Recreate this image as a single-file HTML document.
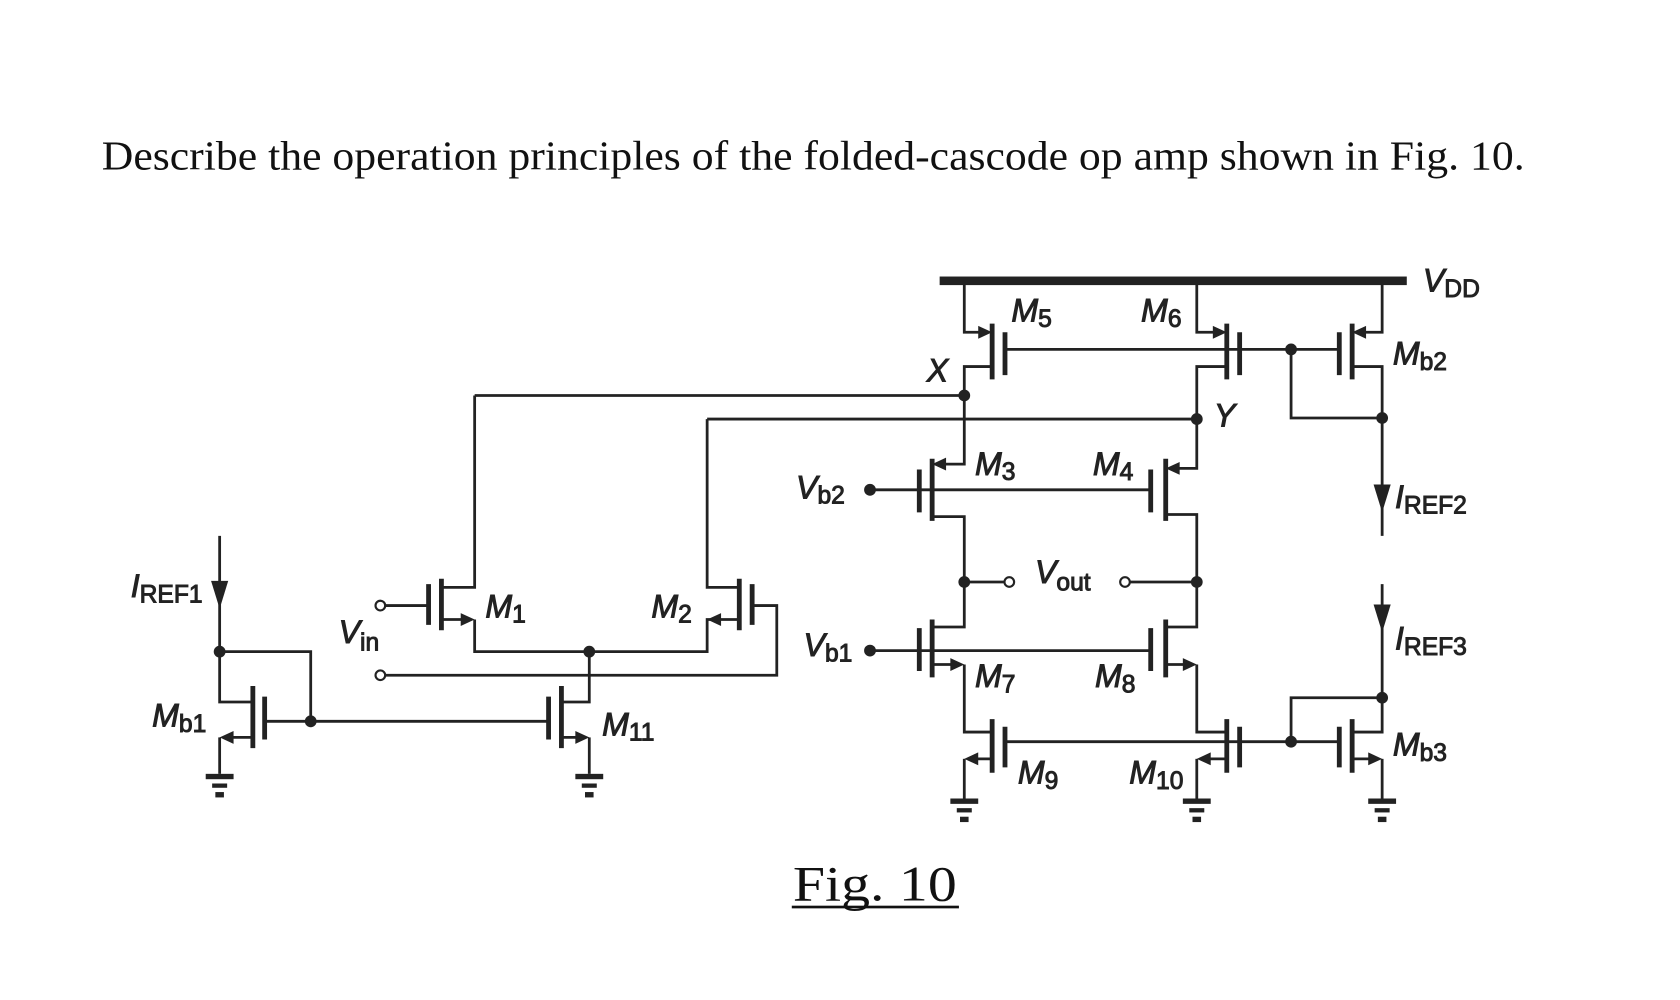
<!DOCTYPE html>
<html><head><meta charset="utf-8">
<style>
html,body{margin:0;padding:0;background:#fff;width:1680px;height:1000px;overflow:hidden}
svg{display:block}
.w{fill:none;stroke:#222;stroke-width:2.6;stroke-linejoin:miter}
.p{fill:none;stroke:#222;stroke-width:4.5}
.l{font-family:"Liberation Sans",sans-serif;font-style:italic;font-size:30px;fill:#222;stroke:#222;stroke-width:0.9}
.s{font-style:normal;font-size:23px}
.t{font-family:"Liberation Serif",serif;fill:#111}
</style></head><body>
<svg width="1680" height="1000" viewBox="0 0 1568 933" preserveAspectRatio="none" xmlns="http://www.w3.org/2000/svg">
<text class="t" x="95" y="158" font-size="38" textLength="1328" lengthAdjust="spacingAndGlyphs">Describe the operation principles of the folded-cascode op amp shown in Fig. 10.</text>
<text class="t" x="740" y="840" font-size="46" textLength="153" lengthAdjust="spacingAndGlyphs">Fig. 10</text>
<rect x="739" y="845" width="156" height="2.5" fill="#111"/>

<rect x="877" y="258" width="436" height="8" fill="#222"/>
<g class="w">
<path d="M900,262V310H922"/><path d="M926,342H900V433H874"/>
<path d="M1117,262V310H1141"/><path d="M1145,342H1117V437H1092"/>
<path d="M938,326H1250"/>
<path d="M1290,262V310H1266"/><path d="M1262,342H1290V500"/>
<path d="M1205,326V390H1290"/>
<path d="M443,369H900"/><path d="M443,369V548H412"/>
<path d="M660,391H1117"/><path d="M660,391V548H690"/>
<path d="M812,457H1074"/><path d="M870,482H900V543"/><path d="M1088,480H1117V543"/>
<path d="M900,543H937"/><path d="M1055,543H1117"/>
<path d="M900,543V585H870"/><path d="M812,607H1074"/>
<path d="M870,620H896"/><path d="M900,620V683H926"/>
<path d="M1117,543V585H1088"/><path d="M1088,620H1113"/><path d="M1117,620V683H1145"/>
<path d="M938,692H1250"/>
<path d="M926,708H904"/><path d="M900,708V745"/>
<path d="M1145,708H1121"/><path d="M1117,708V745"/>
<path d="M1262,683H1290V651"/><path d="M1262,708H1286"/><path d="M1290,708V745"/>
<path d="M1205,692V651H1290"/><path d="M1290,545V651"/>
<path d="M205,500V655H236"/><path d="M205,608H290V673"/>
<path d="M247,673H512"/><path d="M236,688H209"/><path d="M205,688V722"/>
<path d="M524,655H550V608"/><path d="M524,688H546"/><path d="M550,688V722"/>
<path d="M360,565H400"/><path d="M412,578H439"/><path d="M443,578V608H660V578H690"/>
<path d="M702,565H725V630H360"/>
</g>
<g class="p">
<path d="M926,302V354M938,310V350"/>
<path d="M1145,302V354M1157,310V350"/>
<path d="M1262,302V354M1250,310V350"/>
<path d="M870,428V486M858,438V478"/>
<path d="M1088,428V486M1074,438V478"/>
<path d="M870,578V632M858,586V626"/>
<path d="M1088,578V632M1074,586V626"/>
<path d="M926,671V721M938,678V716"/>
<path d="M1145,671V721M1157,678V716"/>
<path d="M1262,671V721M1250,678V716"/>
<path d="M236,640V698M247,650V690"/>
<path d="M524,640V698M512,650V690"/>
<path d="M412,540V588M400,545V583"/>
<path d="M690,540V588M702,545V583"/>
</g>
<g fill="#222">
<polygon points="926,310 913,304 913,316"/>
<polygon points="1145,310 1132,304 1132,316"/>
<polygon points="1262,310 1275,304 1275,316"/>
<polygon points="870,433 883,427 883,439"/>
<polygon points="1088,437 1101,431 1101,443"/>
<polygon points="900,620 887,614 887,626"/>
<polygon points="1117,620 1104,614 1104,626"/>
<polygon points="900,708 913,702 913,714"/>
<polygon points="1117,708 1130,702 1130,714"/>
<polygon points="1290,708 1277,702 1277,714"/>
<polygon points="205,688 218,682 218,694"/>
<polygon points="550,688 537,682 537,694"/>
<polygon points="443,578 430,572 430,584"/>
<polygon points="660,578 673,572 673,584"/>
<polygon points="1290,478 1282,452 1298,452"/>
<polygon points="1290,590 1282,564 1298,564"/>
<polygon points="205,568 197,542 213,542"/>
<circle cx="900" cy="369" r="5.5"/><circle cx="1117" cy="391" r="5.5"/>
<circle cx="1205" cy="326" r="5.5"/><circle cx="1290" cy="390" r="5.5"/>
<circle cx="812" cy="457" r="5.5"/><circle cx="812" cy="607" r="5.5"/>
<circle cx="900" cy="543" r="5.5"/><circle cx="1117" cy="543" r="5.5"/>
<circle cx="1205" cy="692" r="5.5"/><circle cx="1290" cy="651" r="5.5"/>
<circle cx="205" cy="608" r="5.5"/><circle cx="290" cy="673" r="5.5"/>
<circle cx="550" cy="608" r="5.5"/>
<rect x="887" y="745" width="26" height="5"/><rect x="893" y="754" width="14" height="4"/><rect x="896" y="762" width="8" height="5"/>
<rect x="1104" y="745" width="26" height="5"/><rect x="1110" y="754" width="14" height="4"/><rect x="1113" y="762" width="8" height="5"/>
<rect x="1277" y="745" width="26" height="5"/><rect x="1283" y="754" width="14" height="4"/><rect x="1286" y="762" width="8" height="5"/>
<rect x="192" y="722" width="26" height="5"/><rect x="198" y="731" width="14" height="4"/><rect x="201" y="739" width="8" height="5"/>
<rect x="537" y="722" width="26" height="5"/><rect x="543" y="731" width="14" height="4"/><rect x="546" y="739" width="8" height="5"/>
</g>
<g fill="#fff" stroke="#222" stroke-width="2">
<circle cx="942" cy="543" r="4.5"/><circle cx="1050" cy="543" r="4.5"/>
<circle cx="355" cy="565" r="4.5"/><circle cx="355" cy="630" r="4.5"/>
</g>
<text class="l" x="1328" y="272">V<tspan class="s" dy="5">DD</tspan></text>
<text class="l" x="944" y="300">M<tspan class="s" dy="5">5</tspan></text>
<text class="l" x="1065" y="300">M<tspan class="s" dy="5">6</tspan></text>
<text class="l" x="1300" y="340">M<tspan class="s" dy="5">b2</tspan></text>
<text class="l" x="865" y="356">X</text>
<text class="l" x="1133" y="398">Y</text>
<text class="l" x="910" y="443">M<tspan class="s" dy="5">3</tspan></text>
<text class="l" x="1020" y="443">M<tspan class="s" dy="5">4</tspan></text>
<text class="l" x="743" y="465">V<tspan class="s" dy="5">b2</tspan></text>
<text class="l" x="1302" y="474">I<tspan class="s" dy="5">REF2</tspan></text>
<text class="l" x="966" y="544">V<tspan class="s" dy="7">out</tspan></text>
<text class="l" x="750" y="612">V<tspan class="s" dy="5">b1</tspan></text>
<text class="l" x="1302" y="606">I<tspan class="s" dy="5">REF3</tspan></text>
<text class="l" x="910" y="641">M<tspan class="s" dy="5">7</tspan></text>
<text class="l" x="1022" y="641">M<tspan class="s" dy="5">8</tspan></text>
<text class="l" x="950" y="731">M<tspan class="s" dy="5">9</tspan></text>
<text class="l" x="1054" y="731">M<tspan class="s" dy="5">10</tspan></text>
<text class="l" x="1300" y="705">M<tspan class="s" dy="5">b3</tspan></text>
<text class="l" x="122" y="557">I<tspan class="s" dy="5">REF1</tspan></text>
<text class="l" x="142" y="678">M<tspan class="s" dy="5">b1</tspan></text>
<text class="l" x="562" y="686">M<tspan class="s" dy="5">11</tspan></text>
<text class="l" x="453" y="576">M<tspan class="s" dy="5">1</tspan></text>
<text class="l" x="608" y="576">M<tspan class="s" dy="5">2</tspan></text>
<text class="l" x="316" y="600">V<tspan class="s" dy="7">in</tspan></text>
</svg>
</body></html>
